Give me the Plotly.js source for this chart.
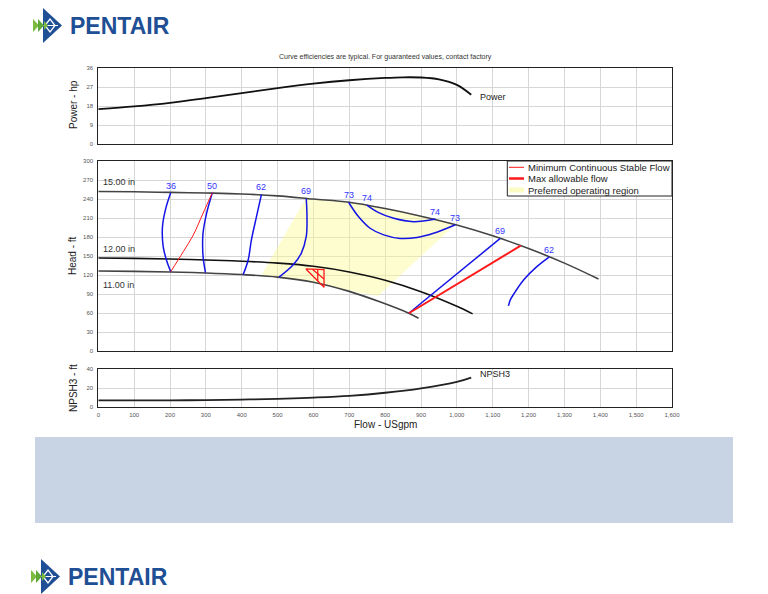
<!DOCTYPE html>
<html>
<head>
<meta charset="utf-8">
<script src="https://cdn.plot.ly/plotly-3.0.1.min.js"></script>
<style>
html,body{margin:0;padding:0;background:#fff;width:768px;height:594px;overflow:hidden;}
#chart{position:absolute;left:0;top:0;width:768px;height:594px;}
#band{position:absolute;left:35px;top:437px;width:698px;height:86px;background:#c8d4e4;}
.logo{position:absolute;}
</style>
</head>
<body>
<div id="chart"></div>
<div id="band"></div>
<div id="logoTop" class="logo" style="left:30px;top:5px"></div>
<div id="logoBottom" class="logo" style="left:28px;top:556px"></div>
<script>
// ---------------- DATA ----------------
// Power curve (hp vs USgpm)
const powerFlow = [0,100,200,300,400,500,600,700,800,850,900,950,1000,1040];
const powerHp   = [16.5,17.8,19.5,21.7,24.1,26.5,28.6,30.2,31.3,31.6,31.5,30.6,28.0,23.3];

// NPSH3 curve (ft vs USgpm)
const npshFlow = [0,100,200,300,400,500,600,700,800,900,1000,1040];
const npshFt   = [7,7,7,7.3,7.8,8.5,9.9,11.8,15,19.7,26.5,31];

// Impeller diameter head curves (ft vs USgpm)
const dia15Flow = [0,100,200,300,400,500,600,700,800,900,1000,1100,1200,1300,1395];
const dia15Head = [252,251.5,250.5,249.5,248,245,240,235,225,213,199,182,162,139,114];
const dia12Flow = [0,100,200,300,400,500,600,700,800,900,1000,1044];
const dia12Head = [147,146.5,145.5,144,142,139,134,125,112,94,71,59];
const dia11Flow = [0,100,200,300,400,500,600,700,785,866,893];
const dia11Head = [126.5,126,125,123.5,121,117,109,94.5,78,60,52];
const diaLabels = ["15.00 in","12.00 in","11.00 in"];

// Efficiency iso-lines (%)
const effNames = ["36","50","62","69","73","74","74","73","69","62"];
const eff36Flow = [202,188,179,181,190,202];       const eff36Head = [250,225,196.5,165,144,125.5];
const eff50Flow = [318,302,292,291,293,299];       const eff50Head = [250,217.5,186,165,145,124];
const eff62Flow = [455,441,427,418,404];           const eff62Head = [247.5,212,175.5,144,121];
const eff69Flow = [580,582,580,566,543,504];       const eff69Head = [241,212,181,154.5,136,117];
const eff73Flow = [698,726,758,796,842,889,935,996]; const eff73Head = [235,212,194,183.5,178,179.5,186,199.5];
const eff74Flow = [749,782,824,879,940];           const eff74Head = [230.6,218.6,209.6,204.4,208.6];
const eff69rFlow = [866,1121];                     const eff69rHead = [60,178];
const eff62rFlow = [1258,1223,1186,1163,1149,1144]; const eff62rHead = [149,133.5,112.4,94,81,71.5];

// Minimum continuous stable flow and max allowable flow
const minFlowFlow = [202,237,265,292,318];         const minFlowHead = [125.6,157,183.4,217.5,250];
const maxFlowFlow = [866,1178];                    const maxFlowHead = [60,166.5];
// hatched marker (red triangle)
const hatchFlow = [579,629.5,629.5,579,null,597,629.5,null,612,612];
const hatchHead = [129.8,128.7,101,129.8,null,129.5,114,null,129.2,110.5];

// Preferred operating region
const prefFlow = [455,550,650,720,780,996,900,800,700,600,578,455];
const prefHead = [120,114,103,93,87,200,213,225,235,240,240.5,120];

const flowTicks = [0,100,200,300,400,500,600,700,800,900,1000,1100,1200,1300,1400,1500,1600];

// ---------------- LAYOUT HELPERS ----------------
const W = 768, H = 594;
const px = x => x / W;
const py = y => 1 - y / H;
const XL = 98.3, XR = 672;
const blue = '#1414e6', blueText = '#3535ff', red = '#ff1a1a';

const traces = [];
traces.push({x: powerFlow, y: powerHp, xaxis:'x', yaxis:'y', mode:'lines',
  line:{color:'#111', width:1.8, shape:'spline'}});
traces.push({x: prefFlow, y: prefHead, xaxis:'x2', yaxis:'y2', mode:'lines', fill:'toself',
  fillcolor:'rgba(250,250,150,0.45)', line:{width:0, color:'rgba(0,0,0,0)'}});
traces.push({x: dia15Flow, y: dia15Head, xaxis:'x2', yaxis:'y2', mode:'lines', line:{color:'#444', width:1.6, shape:'spline'}});
traces.push({x: dia12Flow, y: dia12Head, xaxis:'x2', yaxis:'y2', mode:'lines', line:{color:'#111', width:1.6, shape:'spline'}});
traces.push({x: dia11Flow, y: dia11Head, xaxis:'x2', yaxis:'y2', mode:'lines', line:{color:'#444', width:1.6, shape:'spline'}});

const effSets = [[eff36Flow,eff36Head],[eff50Flow,eff50Head],[eff62Flow,eff62Head],[eff69Flow,eff69Head],
  [eff73Flow,eff73Head],[eff74Flow,eff74Head],[eff74Flow,eff74Head],[eff73Flow,eff73Head],[eff69rFlow,eff69rHead],[eff62rFlow,eff62rHead]];
// label anchor: first point for left labels, last point for the right-hand 74/73 and the 69 line
const labelAt = [0,0,0,0,0,0,'last','last','last',0];
[[eff36Flow,eff36Head],[eff50Flow,eff50Head],[eff62Flow,eff62Head],[eff69Flow,eff69Head],
 [eff73Flow,eff73Head],[eff74Flow,eff74Head],[eff69rFlow,eff69rHead],[eff62rFlow,eff62rHead]].forEach(s=>{
  traces.push({x:s[0], y:s[1], xaxis:'x2', yaxis:'y2', mode:'lines', line:{color:blue, width:1.5, shape:'spline'}});
});
traces.push({x:minFlowFlow, y:minFlowHead, xaxis:'x2', yaxis:'y2', mode:'lines', line:{color:red, width:1, shape:'spline'}});
traces.push({x:maxFlowFlow, y:maxFlowHead, xaxis:'x2', yaxis:'y2', mode:'lines', line:{color:red, width:2}});
traces.push({x:hatchFlow, y:hatchHead, xaxis:'x2', yaxis:'y2', mode:'lines', line:{color:red, width:1.3}, connectgaps:false});
traces.push({x:npshFlow, y:npshFt, xaxis:'x3', yaxis:'y3', mode:'lines', line:{color:'#222', width:1.8, shape:'spline'}});

const annotations = [];
effSets.forEach((s,i)=>{
  const k = labelAt[i]==='last' ? s[0].length-1 : 0;
  annotations.push({x:s[0][k], y:s[1][k], xref:'x2', yref:'y2', text:effNames[i], showarrow:false,
    xanchor:'center', yanchor:'bottom', yshift:0, font:{size:9, color:blueText, family:'Liberation Sans, Arial'}});
});
const diaLabelPos = [[8,267],[8,161.5],[8,104.6]];
diaLabels.forEach((t,i)=>annotations.push({x:diaLabelPos[i][0], y:diaLabelPos[i][1], xref:'x2', yref:'y2', text:t,
  showarrow:false, xanchor:'left', yanchor:'middle', font:{size:9, color:'#333', family:'Liberation Sans, Arial'}}));
annotations.push({x:1058, y:22.3, xref:'x', yref:'y', text:'Power', showarrow:false, xanchor:'left', yanchor:'middle',
  font:{size:9, color:'#222', family:'Liberation Sans, Arial'}});
annotations.push({x:1058, y:34.7, xref:'x3', yref:'y3', text:'NPSH3', showarrow:false, xanchor:'left', yanchor:'middle',
  font:{size:9, color:'#222', family:'Liberation Sans, Arial'}});
// titles
const tfont = {size:10, color:'#222', family:'Liberation Sans, Arial'};
annotations.push({x:px(385), y:py(57), xref:'paper', yref:'paper', text:'Curve efficiencies are typical. For guaranteed values, contact factory',
  showarrow:false, xanchor:'center', yanchor:'middle', font:{size:7, color:'#333', family:'Liberation Sans, Arial'}});
annotations.push({x:px(73), y:py(105), xref:'paper', yref:'paper', text:'Power - hp', textangle:-90, showarrow:false, xanchor:'center', yanchor:'middle', font:tfont});
annotations.push({x:px(72), y:py(256), xref:'paper', yref:'paper', text:'Head - ft', textangle:-90, showarrow:false, xanchor:'center', yanchor:'middle', font:tfont});
annotations.push({x:px(73), y:py(388), xref:'paper', yref:'paper', text:'NPSH3 - ft', textangle:-90, showarrow:false, xanchor:'center', yanchor:'middle', font:tfont});
annotations.push({x:px(385), y:py(424), xref:'paper', yref:'paper', text:'Flow - USgpm', showarrow:false, xanchor:'center', yanchor:'middle', font:tfont});

// legend (drawn)
const legendItems = [
  {text:'Minimum Continuous Stable Flow', color:red, width:1, y:167.3},
  {text:'Max allowable flow', color:red, width:2.5, y:178.5},
  {text:'Preferred operating region', color:'#fbfbc4', width:5, y:190}
];
const shapes = [{type:'rect', xref:'paper', yref:'paper', x0:px(507.3), x1:px(XR), y0:py(196), y1:py(161),
  line:{color:'#222', width:1}, fillcolor:'#fff', layer:'above'}];
legendItems.forEach(it=>{
  shapes.push({type:'line', xref:'paper', yref:'paper', x0:px(509), x1:px(524), y0:py(it.y), y1:py(it.y),
    line:{color:it.color, width:it.width}, layer:'above'});
  annotations.push({x:px(526), y:py(it.y), xref:'paper', yref:'paper', text:it.text, showarrow:false,
    xanchor:'left', yanchor:'middle', font:{size:9.5, color:'#222', family:'Liberation Sans, Arial'}});
});

const tickFont = {size:6, color:'#555', family:'Liberation Sans, Arial'};
const baseX = {range:[0,1600], tickvals:flowTicks, tickformat:',', showgrid:true, gridcolor:'#d6d6d6', gridwidth:1,
  zeroline:false, showline:true, mirror:true, linecolor:'#222', linewidth:1, ticks:'', fixedrange:true,
  domain:[px(XL), px(XR)], tickfont:tickFont};
const baseY = {showgrid:true, gridcolor:'#d6d6d6', gridwidth:1, zeroline:false, showline:true, mirror:true,
  linecolor:'#222', linewidth:1, ticks:'', tickfont:tickFont, fixedrange:true, ticklabelstandoff:3};

const layout = {
  width:W, height:H, margin:{l:0,r:0,t:0,b:0}, showlegend:false,
  paper_bgcolor:'rgba(0,0,0,0)', plot_bgcolor:'#fff',
  font:{family:'Liberation Sans, Arial', color:'#333'},
  xaxis:Object.assign({}, baseX, {anchor:'y', showticklabels:false}),
  xaxis2:Object.assign({}, baseX, {anchor:'y2', showticklabels:false}),
  xaxis3:Object.assign({}, baseX, {anchor:'y3', showticklabels:true, ticklabelstandoff:2}),
  yaxis:Object.assign({}, baseY, {anchor:'x', domain:[py(144), py(68)], range:[0,36], tickvals:[0,9,18,27,36]}),
  yaxis2:Object.assign({}, baseY, {anchor:'x2', domain:[py(351.3), py(161)], range:[0,300], dtick:30, tick0:0}),
  yaxis3:Object.assign({}, baseY, {anchor:'x3', domain:[py(407), py(369)], range:[0,40], tickvals:[0,20,40]}),
  annotations:annotations, shapes:shapes
};
Plotly.newPlot('chart', traces, layout, {staticPlot:true, displayModeBar:false});

// ---------------- LOGO ----------------
function logoSvg(){
  return '<svg width="150" height="42" xmlns="http://www.w3.org/2000/svg">' +
    '<polygon points="13,3 32,20.5 13,38" fill="#1f4f94"/>' +
    '<polygon points="15,20.5 20,14 25,20.5 20,27" fill="none" stroke="#fff" stroke-width="1.3"/>' +
    '<line x1="13" y1="20.5" x2="28" y2="20.5" stroke="#fff" stroke-width="1"/>' +
    '<polygon points="3,14 9,20.5 3,27" fill="#7cbb3f"/>' +
    '<polygon points="8,14 14,20.5 8,27" fill="#5ea93a"/>' +
    '<polygon points="14,16 18,20.5 14,25" fill="#7cbb3f"/>' +
    '<text x="40" y="29" font-family="Liberation Sans, Arial, sans-serif" font-weight="bold" font-size="23" fill="#1f4f94">PENTAIR</text>' +
    '</svg>';
}
document.getElementById('logoTop').innerHTML = logoSvg();
document.getElementById('logoBottom').innerHTML = logoSvg();
</script>
</body>
</html>
